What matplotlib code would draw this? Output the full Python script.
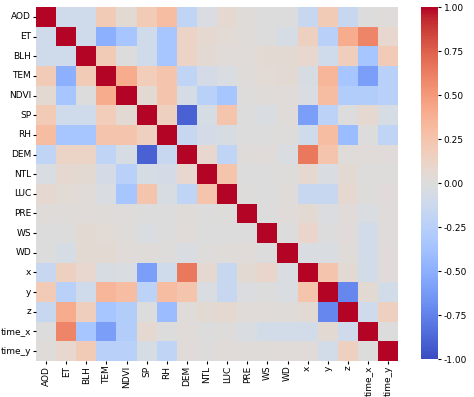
import matplotlib
matplotlib.use("Agg")
import matplotlib.pyplot as plt
import numpy as np
import seaborn as sns

# Variable names (rows and columns of the correlation matrix)
labels = ['AOD', 'ET', 'BLH', 'TEM', 'NDVI', 'SP', 'RH', 'DEM', 'NTL',
          'LUC', 'PRE', 'WS', 'WD', 'x', 'y', 'z', 'time_x', 'time_y']

# Upper triangle of the correlation matrix, read row by row
# (values to the right of the diagonal)
upper = [
    [-0.10, -0.10, 0.20, 0.05, 0.20, 0.30, -0.20, -0.03, 0.07, 0.02, 0.00, 0.00, -0.15, 0.20, -0.15, 0.00, 0.02],
    [-0.10, -0.50, -0.35, -0.10, -0.35, 0.12, 0.07, 0.04, 0.02, 0.00, -0.05, 0.15, -0.25, 0.40, 0.60, 0.08],
    [0.20, 0.00, -0.10, -0.35, 0.12, 0.05, 0.03, 0.03, 0.05, 0.05, 0.08, -0.10, 0.17, -0.35, 0.20],
    [0.40, 0.18, 0.25, -0.20, -0.07, -0.03, 0.02, 0.04, 0.05, -0.04, 0.35, -0.35, -0.60, -0.25],
    [0.05, 0.25, -0.05, -0.25, -0.35, 0.01, 0.02, 0.03, -0.03, 0.30, -0.28, -0.28, -0.25],
    [0.15, -0.90, -0.05, 0.25, 0.00, -0.03, 0.02, -0.60, -0.22, 0.00, 0.07, -0.05],
    [-0.15, -0.07, -0.04, 0.00, 0.00, 0.01, -0.10, 0.30, -0.42, 0.00, -0.20],
    [0.08, -0.20, 0.02, 0.03, -0.03, 0.65, 0.25, 0.02, 0.03, 0.03],
    [0.25, 0.00, 0.00, 0.01, 0.07, -0.03, 0.05, 0.00, 0.01],
    [0.01, 0.00, 0.02, -0.15, -0.15, 0.07, 0.01, 0.03],
    [0.00, 0.03, 0.05, -0.02, 0.03, -0.03, 0.02],
    [0.00, 0.10, 0.00, 0.03, -0.08, 0.02],
    [-0.03, -0.03, 0.02, -0.08, 0.03],
    [0.25, 0.05, -0.08, 0.03],
    [-0.72, 0.05, -0.08],
    [-0.10, 0.15],
    [0.00],
]

n = len(labels)
corr = np.eye(n)
for i, row in enumerate(upper):
    corr[i, i + 1:] = row
    corr[i + 1:, i] = row

fig = plt.figure(figsize=(4.74, 3.97), dpi=100)
ax = fig.add_axes([0.076, 0.091, 0.764, 0.891])
cax = fig.add_axes([0.888, 0.095, 0.036, 0.887])

sns.heatmap(corr, cmap='coolwarm', vmin=-1, vmax=1, ax=ax, cbar_ax=cax,
            xticklabels=labels, yticklabels=labels,
            cbar_kws={'ticks': [-1, -0.75, -0.5, -0.25, 0, 0.25, 0.5, 0.75, 1],
                      'format': '%.2f'})

ax.tick_params(axis='both', labelsize=6.5, length=2.5, pad=1)
plt.setp(ax.get_xticklabels(), rotation=90)
plt.setp(ax.get_yticklabels(), rotation=0)
cax.tick_params(labelsize=6.5, length=2.5, pad=1.5)

fig.savefig('out.png', dpi=100)
